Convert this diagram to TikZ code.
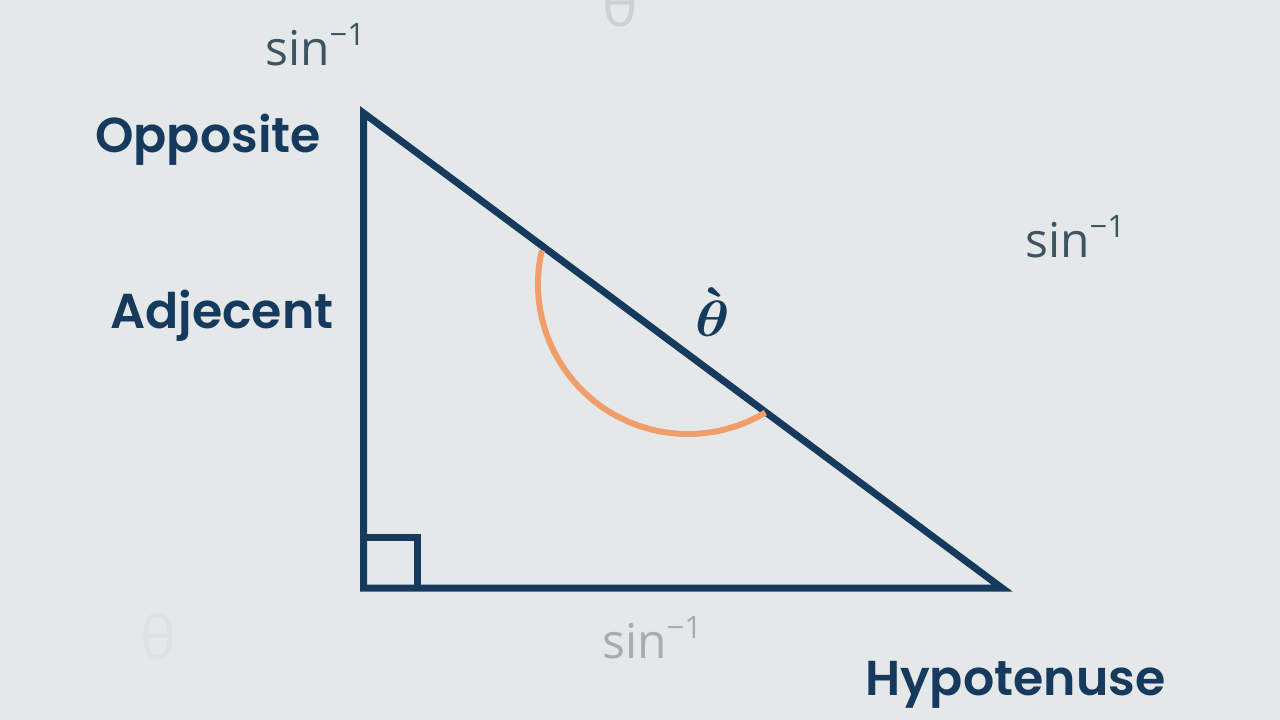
\documentclass[tikz,border=0pt]{standalone}
\usepackage{fontspec}
\setmainfont{Poppins}
\newfontfamily\semib{Poppins SemiBold}
\newfontfamily\osans{Open Sans}
\definecolor{bgc}{RGB}{229,232,232}
\definecolor{navy}{RGB}{22,58,94}
\definecolor{arcc}{RGB}{239,158,108}
\definecolor{slate}{RGB}{62,84,96}
\definecolor{lgrey}{RGB}{168,172,172}
\definecolor{ghost}{RGB}{206,209,210}
\definecolor{ghost2}{RGB}{223,226,226}
\newcommand{\sininv}{\osans sin\raisebox{20pt}{\fontsize{31}{31}\selectfont −1}}
\tikzset{
  edge/.style={draw=navy, line width=7pt, line join=miter},
  lab/.style={anchor=base west, inner sep=0pt, text=navy, font=\semib\fontsize{49}{49}\selectfont},
  sinlab/.style={anchor=base west, inner sep=0pt, font=\fontsize{48}{48}\selectfont},
}
\begin{document}
\begin{tikzpicture}[x=1pt,y=-1pt]
\fill[bgc] (0,0) rectangle (1280,720);
\useasboundingbox (0,0) rectangle (1280,720);
\clip (0,0) rectangle (1280,720);
% faint ghost glyphs
\node[anchor=south, inner sep=0pt, text=ghost, font=\osans\fontsize{60}{60}\selectfont] (ghtop) at (620,27) {θ};
\node[anchor=south, inner sep=0pt, text=ghost2, font=\osans\fontsize{60}{60}\selectfont] (ghbot) at (158,660) {θ};
% triangle
\coordinate (A) at (363.5,113);
\coordinate (B) at (363.5,588);
\coordinate (C) at (1002,588);
\draw[edge] (A) -- (B) -- (C) -- cycle;
% right angle mark
\coordinate (R1) at (363.5,537);
\coordinate (R2) at (417,537);
\coordinate (R3) at (417,588);
\draw[draw=navy, line width=7pt] (R1) -- (R2) -- (R3);
% angle arc
\coordinate (O) at (688,284);
\draw[arcc, line width=6pt] ([shift={(193:150)}]O) arc[start angle=193, end angle=59, radius=150];
% theta label
\node[inner sep=0pt, text=navy] (th) at (713,312) {\scalebox{5.8}[5.1]{\boldmath$\grave{\theta}$}};
% labels
\node[lab] (opp) at (95,152) {Opposite};
\node[lab] (adj) at (110,328) {Adjecent};
\node[lab] (hyp) at (865,695) {Hypotenuse};
\node[sinlab, text=slate] (s1) at (265,65) {\sininv};
\node[sinlab, text=slate] (s2) at (1025,257) {\sininv};
\node[sinlab, text=lgrey] (s3) at (602,658) {\sininv};
\end{tikzpicture}
\end{document}
